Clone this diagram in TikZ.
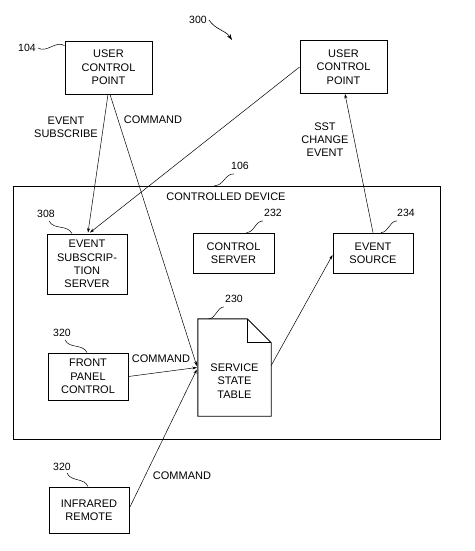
\documentclass[tikz,border=0pt]{standalone}
\usepackage{fontspec}
\setmainfont{Liberation Sans}
\usepackage{tikz}
\usetikzlibrary{arrows.meta, calc}

\begin{document}
\begin{tikzpicture} [x=1pt, y=-1pt,
nodes={font=\fontsize{11}{13.3}\selectfont, align=center, inner sep=0pt},
box/.style={draw, line width=0.9pt, minimum width=80pt},
num/.style={font=\fontsize{10.5}{12}\selectfont},
wire/.style={line width=0.5pt, -{Stealth[length=4.5pt, width=3pt]}},
leader/.style={line width=0.5pt}]
\useasboundingbox (0,0) rectangle (474,551);

% outside the device
\node[box, minimum width=87pt, minimum height=53pt] (ucpA) at (108.5,67.5) {USER\\CONTROL\\POINT};
\node[box, minimum width=87pt, minimum height=53pt] (ucpB) at (343.5,67) {USER\\CONTROL\\POINT};
\node[box, minimum height=46pt] (irr) at (89,510) {INFRARED\\REMOTE};

% controlled device
\node[draw, line width=0.9pt, minimum width=427pt, minimum height=253pt] (device) at (226.5,312.5) {};
\node (devtitle) at (226,197) {CONTROLLED DEVICE};
\node[box, minimum height=60pt] (ess) at (87,264) {EVENT\\SUBSCRIP-\\TION\\SERVER};
\node[box, minimum width=81pt, minimum height=40pt] (cs) at (233.5,253) {CONTROL\\SERVER};
\node[box, minimum height=40pt] (esrc) at (373,253) {EVENT\\SOURCE};
\node[box, minimum height=47pt] (fpc) at (88,376.5) {FRONT\\PANEL\\CONTROL};

% service state table, page with folded corner
\node[minimum width=73pt, minimum height=97pt] (sst) at (234.5,367.5) {};
\draw[line width=0.9pt] (sst.north west) -- ([xshift=-24pt]sst.north east)
  -- ([yshift=-24pt]sst.north east) -- (sst.south east) -- (sst.south west) -- cycle;
\draw[line width=0.7pt] ([xshift=-24pt]sst.north east) -- ([xshift=-24pt, yshift=-24pt]sst.north east)
  -- ([yshift=-24pt]sst.north east);
\node (ssttext) at ([yshift=-13.5pt]sst.center) {SERVICE\\STATE\\TABLE};

% reference numbers
\node[num] (n300) at (198,20) {300};
\coordinate (c300) at (232,40);
\draw[line width=0.6pt, -{Stealth[length=6pt, width=4pt]}] ([xshift=2pt]n300.east) to[out=-15, in=165, relative] (c300);
\node[num] (n104) at (27,48) {104};
\draw[leader] ([xshift=2pt]n104.east) to[out=-35, in=145, relative] ([yshift=-5pt]ucpA.north west);
\node[num] (n106) at (240,166) {106};
\draw[leader] ([xshift=-6pt, yshift=-4pt]n106.south) to[out=-35, in=145, relative] ([xshift=-12pt]device.north);
\node[num] (n308) at (46,214) {308};
\draw[leader] ([xshift=3pt, yshift=-3pt]n308.south) to[out=-35, in=145, relative] ([xshift=-15pt]ess.north);
\node[num] (n232) at (273,213) {232};
\draw[leader] ([xshift=-10pt, yshift=-4pt]n232.south) to[out=-35, in=145, relative] ([xshift=13pt]cs.north);
\node[num] (n234) at (406,213) {234};
\draw[leader] ([xshift=-9pt, yshift=-4pt]n234.south) to[out=-35, in=145, relative] ([xshift=8pt]esrc.north);
\node[num] (n230) at (234,299) {230};
\draw[leader] ([xshift=-10pt, yshift=-4pt]n230.south) to[out=-35, in=145, relative] ([xshift=11pt]sst.north west);
\node[num] (n320a) at (62,333) {320};
\draw[leader] ([xshift=3pt, yshift=-3pt]n320a.south) to[out=-35, in=145, relative] ([xshift=-1pt]fpc.north);
\node[num] (n320b) at (62,467) {320};
\draw[leader] ([xshift=5pt, yshift=-2pt]n320b.south) to[out=-35, in=145, relative] ([xshift=-1pt]irr.north);

% connector labels
\node (lsub) at (66,127.5) {EVENT\\SUBSCRIBE};
\node (lcmdA) at (153,120) {COMMAND};
\node (lsst) at (325,139.5) {SST\\CHANGE\\EVENT};
\node (lcmdB) at (161,359) {COMMAND};
\node (lcmdC) at (182,476) {COMMAND};

% connectors
\draw[wire] ([xshift=-0.5pt]ucpA.south) -- ([xshift=1pt, yshift=1pt]ess.north);
\draw[wire] (ucpB.west) -- ([xshift=3pt, yshift=1pt]ess.north);
\draw[wire] ([xshift=1.5pt]ucpA.south) -- ([xshift=-1pt, yshift=1.5pt]sst.west);
\draw[wire] (fpc.east) -- ([xshift=-1pt]sst.west);
\draw[wire] ([yshift=2pt]irr.east) -- ([xshift=-1pt, yshift=-2pt]sst.west);
\draw[wire] ([yshift=2pt]sst.east) -- ([yshift=-2pt]esrc.west);
\draw[wire] (esrc.north) -- ([xshift=1.5pt]ucpB.south);

\end{tikzpicture}
\end{document}
